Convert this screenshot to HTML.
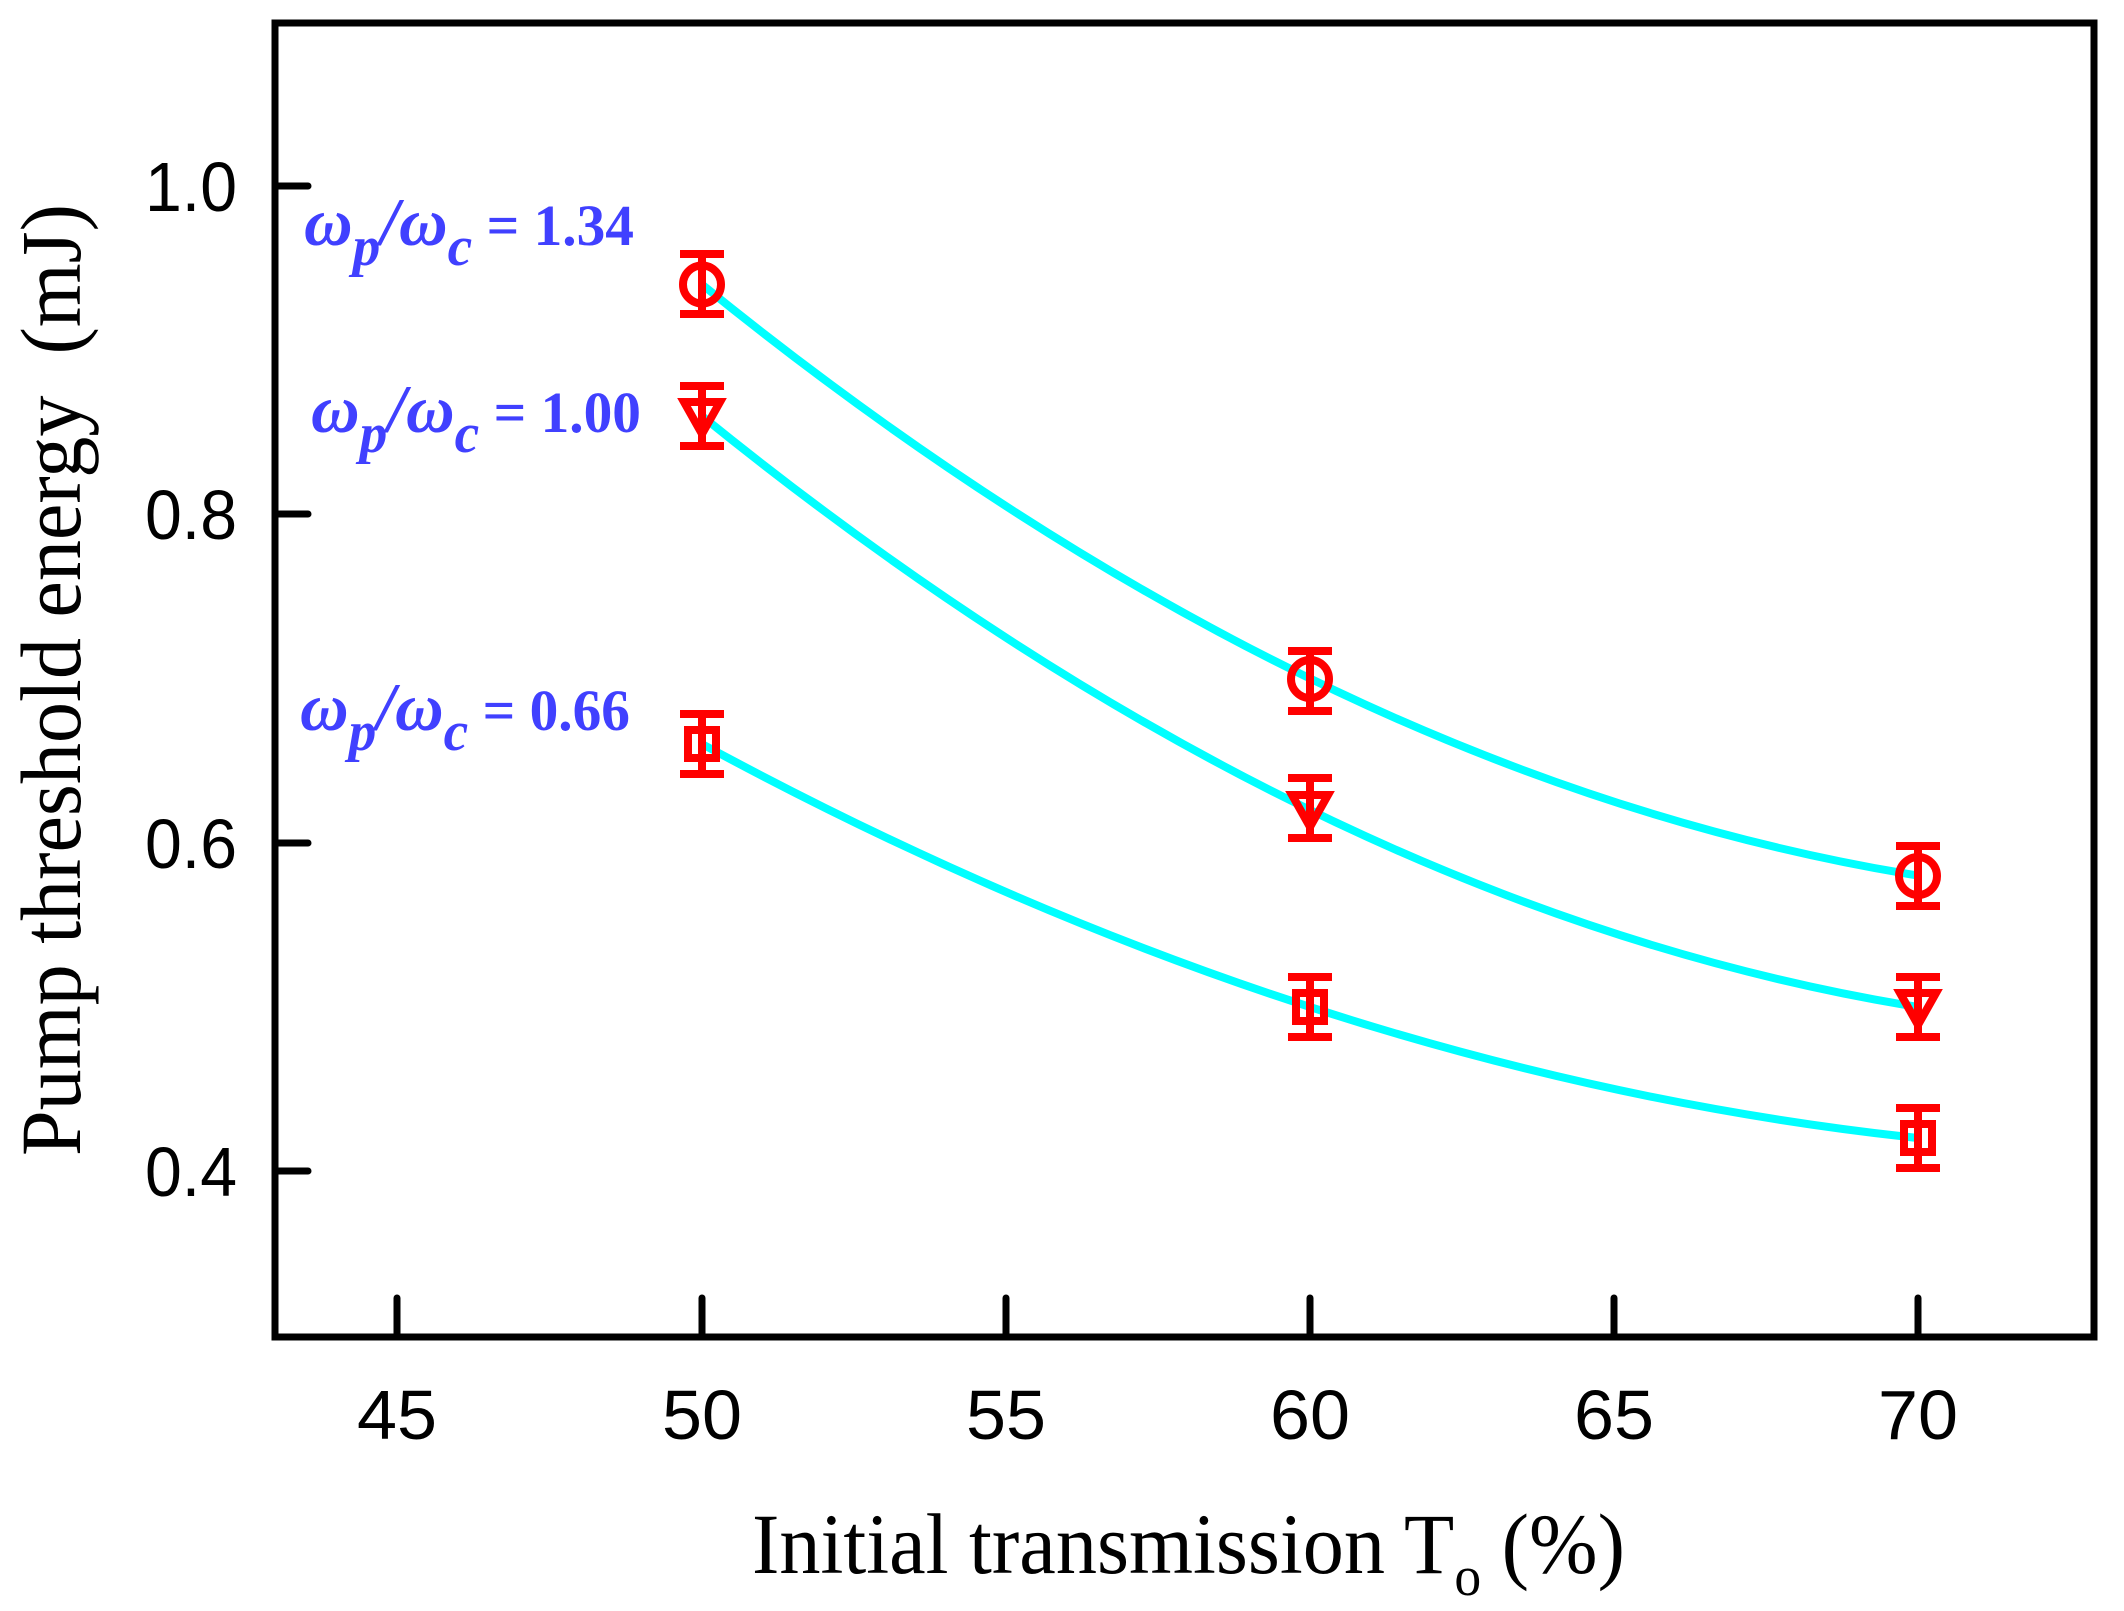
<!DOCTYPE html>
<html><head><meta charset="utf-8"><style>html,body{margin:0;padding:0;background:#fff}svg{display:block}</style></head>
<body>
<svg width="2124" height="1611" viewBox="0 0 2124 1611" xmlns="http://www.w3.org/2000/svg">
<rect x="0" y="0" width="2124" height="1611" fill="#fff"/>
<g fill="none" stroke="#00ffff" stroke-width="8">
<path d="M702,284.5 Q1310,777 1918,875.6"/>
<path d="M702,416 Q1310,908.5 1918,1007"/>
<path d="M702,744 Q1310,1073 1918,1138"/>
</g>
<rect x="275" y="23" width="1819" height="1314" fill="none" stroke="#000" stroke-width="7"/>
<g stroke="#000" stroke-width="7" stroke-linecap="round">
<line x1="275" y1="186" x2="308" y2="186"/>
<line x1="275" y1="514" x2="308" y2="514"/>
<line x1="275" y1="843" x2="308" y2="843"/>
<line x1="275" y1="1171" x2="308" y2="1171"/>
<line x1="397" y1="1337" x2="397" y2="1298"/>
<line x1="702" y1="1337" x2="702" y2="1298"/>
<line x1="1006" y1="1337" x2="1006" y2="1298"/>
<line x1="1310" y1="1337" x2="1310" y2="1298"/>
<line x1="1614" y1="1337" x2="1614" y2="1298"/>
<line x1="1918" y1="1337" x2="1918" y2="1298"/>
</g>
<g font-family="Liberation Sans, sans-serif" font-size="70" fill="#000">
<g text-anchor="end">
<text x="237" y="211" textLength="92" lengthAdjust="spacingAndGlyphs">1.0</text>
<text x="237" y="539" textLength="92" lengthAdjust="spacingAndGlyphs">0.8</text>
<text x="237" y="868" textLength="92" lengthAdjust="spacingAndGlyphs">0.6</text>
<text x="237" y="1196" textLength="92" lengthAdjust="spacingAndGlyphs">0.4</text>
</g>
<g text-anchor="middle">
<text x="397" y="1439" textLength="80" lengthAdjust="spacingAndGlyphs">45</text>
<text x="702" y="1439" textLength="80" lengthAdjust="spacingAndGlyphs">50</text>
<text x="1006" y="1439" textLength="80" lengthAdjust="spacingAndGlyphs">55</text>
<text x="1310" y="1439" textLength="80" lengthAdjust="spacingAndGlyphs">60</text>
<text x="1614" y="1439" textLength="80" lengthAdjust="spacingAndGlyphs">65</text>
<text x="1918" y="1439" textLength="80" lengthAdjust="spacingAndGlyphs">70</text>
</g>
</g>
<text x="752" y="1573" font-family="Liberation Serif, serif" font-size="86" fill="#000" textLength="873" lengthAdjust="spacingAndGlyphs">Initial transmission T<tspan font-size="56" dy="22">o</tspan><tspan dy="-22"> (%)</tspan></text>
<text transform="translate(80,680) rotate(-90)" text-anchor="middle" font-family="Liberation Serif, serif" font-size="86" fill="#000" textLength="952" lengthAdjust="spacingAndGlyphs">Pump threshold energy&#160;&#160;(mJ)</text>
<g fill="none" stroke="#ff0000" stroke-width="8">
<g>
<path d="M680,254 H724 M702,254 V314 M680,314 H724"/><circle cx="702" cy="284.5" r="19"/>
<path d="M1288,651 H1332 M1310,651 V711 M1288,711 H1332"/><circle cx="1310" cy="679" r="19"/>
<path d="M1896,846 H1940 M1918,846 V906 M1896,906 H1940"/><circle cx="1918" cy="876" r="19"/>
</g>
<g>
<path d="M680,386 H724 M702,386 V446 M680,446 H724"/><path d="M684,402 H720 L702,434 Z"/>
<path d="M1288,778 H1332 M1310,778 V838 M1288,838 H1332"/><path d="M1292,795 H1328 L1310,827 Z"/>
<path d="M1896,977 H1940 M1918,977 V1037 M1896,1037 H1940"/><path d="M1900,993 H1936 L1918,1025 Z"/>
</g>
<g>
<path d="M680,714 H724 M702,714 V774 M680,774 H724"/><rect x="688" y="730" width="28" height="28"/>
<path d="M1288,977 H1332 M1310,977 V1037 M1288,1037 H1332"/><rect x="1296" y="993" width="28" height="28"/>
<path d="M1896,1108 H1940 M1918,1108 V1168 M1896,1168 H1940"/><rect x="1904" y="1124" width="28" height="28"/>
</g>
</g>
<g font-family="Liberation Serif, serif" font-weight="bold" fill="#4040ff">
<text x="304" y="245" font-size="68" textLength="330" lengthAdjust="spacingAndGlyphs"><tspan font-style="italic">ω<tspan font-size="56" dy="20">p</tspan><tspan dy="-20">/ω</tspan><tspan font-size="56" dy="20">c</tspan></tspan><tspan dy="-20" font-size="58"> = 1.34</tspan></text>
<text x="311" y="432" font-size="68" textLength="330" lengthAdjust="spacingAndGlyphs"><tspan font-style="italic">ω<tspan font-size="56" dy="20">p</tspan><tspan dy="-20">/ω</tspan><tspan font-size="56" dy="20">c</tspan></tspan><tspan dy="-20" font-size="58"> = 1.00</tspan></text>
<text x="300" y="730" font-size="68" textLength="330" lengthAdjust="spacingAndGlyphs"><tspan font-style="italic">ω<tspan font-size="56" dy="20">p</tspan><tspan dy="-20">/ω</tspan><tspan font-size="56" dy="20">c</tspan></tspan><tspan dy="-20" font-size="58"> = 0.66</tspan></text>
</g>
</svg>
</body></html>
